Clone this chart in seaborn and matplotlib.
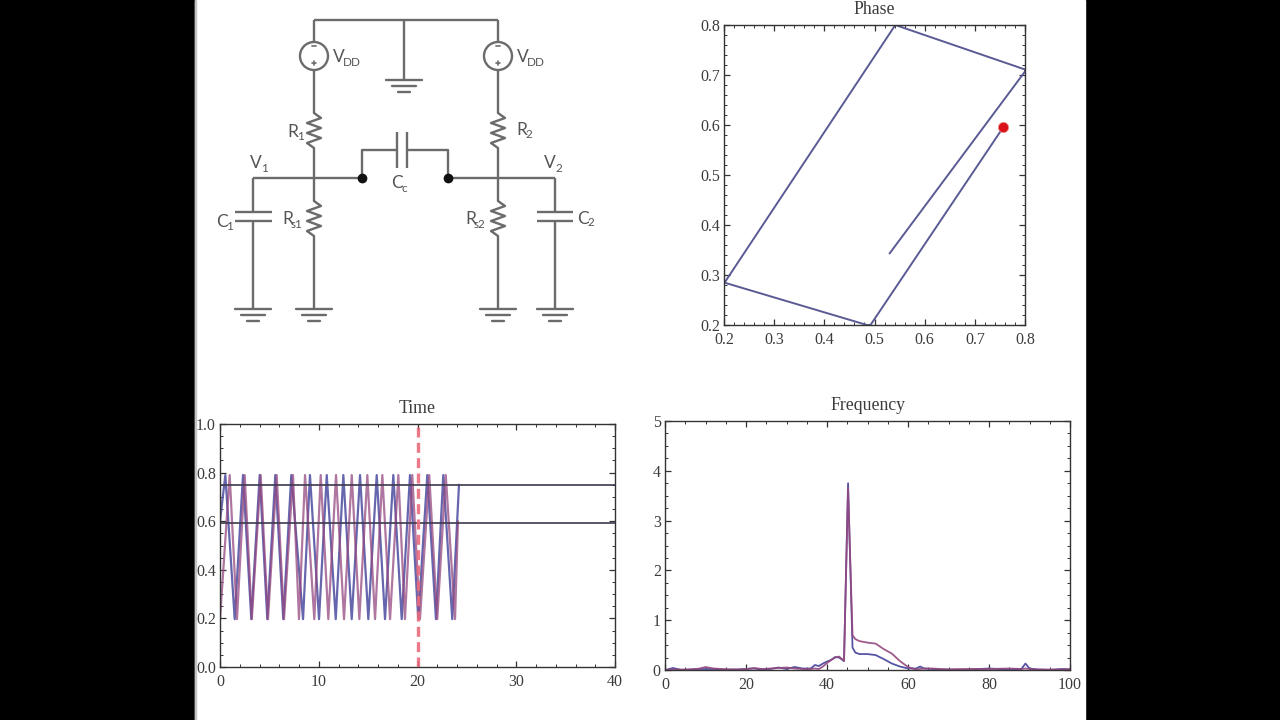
import numpy as np
import pandas as pd
import matplotlib
matplotlib.use("Agg")
import matplotlib.pyplot as plt
from matplotlib.patches import Circle, Rectangle
from matplotlib.ticker import MultipleLocator, FormatStrFormatter
import seaborn as sns

# Phase trace
phase_x = [0.53, 0.80, 0.80, 0.5415, 0.2, 0.2, 0.485, 0.492, 0.757]
phase_y = [0.343, 0.707, 0.711, 0.80, 0.283, 0.285, 0.20, 0.20, 0.596]
dot_x = [0.757]
dot_y = [0.596]

# Time traces, peaks at 0.79 and troughs at 0.197
blue_t = [0, 0.54, 1.49, 2.33, 3.17, 4.02, 4.79, 5.60, 6.41, 7.22, 8.41, 9.11, 10.03, 10.81, 11.72,
          12.49, 13.34, 14.18, 15.02, 15.87, 16.71, 17.55, 18.40, 19.24, 20.08, 20.99, 21.87,
          22.61, 23.52, 24.2]
blue_v = [0.6, 0.79, 0.197, 0.79, 0.197, 0.79, 0.197, 0.79, 0.197, 0.79, 0.197, 0.79, 0.197, 0.79, 0.197,
          0.79, 0.197, 0.79, 0.197, 0.79, 0.197, 0.79, 0.197, 0.79, 0.197, 0.79, 0.197,
          0.79, 0.197, 0.75]
purple_t = [0, 0.98, 1.72, 2.50, 3.22, 4.12, 4.86, 5.74, 6.48, 7.39, 8.00, 8.61, 9.55, 10.20, 10.97,
            11.75, 12.56, 13.34, 14.11, 14.92, 15.70, 16.44, 17.22, 18.06, 18.73, 19.47, 20.25,
            21.19, 22.0, 22.86, 23.8, 24.1]
purple_v = [0.197, 0.79, 0.197, 0.79, 0.197, 0.79, 0.197, 0.79, 0.197, 0.79, 0.197, 0.79, 0.197, 0.79, 0.197,
            0.79, 0.197, 0.79, 0.197, 0.79, 0.197, 0.79, 0.197, 0.79, 0.197, 0.79, 0.197,
            0.79, 0.197, 0.79, 0.197, 0.6]
hold_levels = [0.75, 0.593]
marker_t = 20

# Frequency spectra
freq_x = [0, 2, 4, 6, 8, 10, 12, 14, 16, 18, 20, 22, 24, 26, 28, 30, 32, 34, 36, 37, 38, 39, 40, 41,
          42, 43, 44.2, 45.2, 46.3, 47, 48, 50, 52, 54, 56, 58, 60, 62, 63, 64, 66, 68, 70, 75, 80,
          85, 88, 89, 90, 92, 95, 98, 100]
freq_blue = [0.0, 0.04, 0.0, 0.01, 0.02, 0.02, 0.02, 0.01, 0.01, 0.01, 0.02, 0.03, 0.01, 0.02, 0.05,
             0.02, 0.06, 0.03, 0.03, 0.10, 0.08, 0.13, 0.17, 0.20, 0.26, 0.25, 0.18, 3.75, 0.45,
             0.35, 0.32, 0.32, 0.30, 0.22, 0.13, 0.07, 0.03, 0.03, 0.07, 0.03, 0.02, 0.01, 0.01,
             0.01, 0.03, 0.01, 0.02, 0.13, 0.03, 0.01, 0.0, 0.02, 0.01]
freq_purple = [0.0, 0.01, 0.01, 0.01, 0.02, 0.06, 0.03, 0.02, 0.01, 0.01, 0.02, 0.04, 0.02, 0.03, 0.04,
               0.05, 0.03, 0.02, 0.02, 0.03, 0.02, 0.07, 0.14, 0.20, 0.25, 0.27, 0.18, 3.65, 0.70,
               0.62, 0.58, 0.55, 0.53, 0.42, 0.33, 0.18, 0.06, 0.01, 0.02, 0.03, 0.03, 0.02, 0.01,
               0.02, 0.02, 0.03, 0.02, 0.03, 0.02, 0.01, 0.01, 0.01, 0.02]

BLUE = "#5555a5"
PURPLE = "#95487f"
DARK = "#3d3a4e"
TEXT = "#3c3c3c"
GRAY = "#6b6b6b"

sns.set_theme(style="ticks")
plt.rcParams["font.family"] = ["Liberation Serif", "DejaVu Serif"]

fig = plt.figure(figsize=(12.8, 7.2), dpi=100, facecolor="black")


def pixel_axes(left, top, right, bottom):
    return fig.add_axes([left / 1280, 1 - bottom / 720, (right - left) / 1280, (bottom - top) / 720])


# background panel and circuit, in pixel units
bg = fig.add_axes([0, 0, 1, 1])
bg.set_xlim(0, 1280)
bg.set_ylim(720, 0)
bg.axis("off")
bg.add_patch(Rectangle((195, 0), 889.5, 720, color="white", zorder=0))
bg.add_patch(Rectangle((195, 0), 1, 720, color="#c4c4c4", zorder=1))

wires = [
    ([314, 498], [20, 20]), ([404, 404], [20, 80]),
    ([314, 314], [20, 42]), ([314, 314], [70, 113]), ([314, 314], [148, 201]), ([314, 314], [236, 309]),
    ([498, 498], [20, 42]), ([498, 498], [70, 113]), ([498, 498], [148, 201]), ([498, 498], [236, 309]),
    ([253, 362], [178, 178]), ([448, 555], [178, 178]),
    ([362, 362, 397], [178, 150, 150]), ([407, 448, 448], [150, 150, 178]),
    ([397, 397], [132, 168]), ([407, 407], [132, 168]),
    ([253, 253], [178, 212]), ([253, 253], [221, 309]), ([235, 272], [212, 212]), ([235, 272], [221, 221]),
    ([555, 555], [178, 212]), ([555, 555], [221, 309]), ([537, 573], [212, 212]), ([537, 573], [221, 221]),
]
for wx, wy in wires:
    bg.plot(wx, wy, color=GRAY, lw=1.7, solid_capstyle="butt", zorder=2)

# grounds
for gx, gy in [(404, 80), (253, 309), (314, 309), (498, 309), (555, 309)]:
    bg.plot([gx - 18, gx + 18], [gy, gy], color=GRAY, lw=1.7, zorder=2)
    bg.plot([gx - 12, gx + 12], [gy + 6, gy + 6], color=GRAY, lw=1.7, zorder=2)
    bg.plot([gx - 6, gx + 6], [gy + 12, gy + 12], color=GRAY, lw=1.7, zorder=2)

# resistors
for rx, y0, y1 in [(314, 113, 148), (498, 113, 148), (314, 201, 236), (498, 201, 236)]:
    ys = np.linspace(y0, y1, 8)
    xs = [rx, rx + 7, rx - 7, rx + 7, rx - 7, rx + 7, rx - 7, rx]
    bg.plot(xs, ys, color=GRAY, lw=1.7, zorder=2)

# voltage sources
for sx in [314, 498]:
    bg.add_patch(Circle((sx, 56), 14, fill=False, ec=GRAY, lw=1.7, zorder=2))
    bg.plot([sx - 2, sx + 2], [46, 46], color=GRAY, lw=1.2, zorder=2)
    bg.plot([sx - 2, sx + 2], [63, 63], color=GRAY, lw=1.2, zorder=2)
    bg.plot([sx, sx], [61, 65], color=GRAY, lw=1.2, zorder=2)

bg.plot([362, 448], [178, 178], ls="none", marker="o", ms=6, color="#111111", zorder=3)

labels = [
    (333, 57, "V", 343, 62, "DD"), (517, 57, "V", 527, 62, "DD"),
    (287, 132, "R", 297, 137, "1"), (516, 130, "R", 526, 134, "2"),
    (250, 163, "V", 261, 168, "1"), (544, 163, "V", 555, 168, "2"),
    (391, 183, "C", 401, 188, "c"), (216, 222, "C", 226, 226, "1"),
    (282, 219, "R", 291, 224, "s1"), (465, 219, "R", 474, 224, "s2"),
    (577, 219, "C", 587, 223, "2"),
]
for x1, y1, main, x2, y2, sub in labels:
    bg.text(x1, y1, main, family="Lato", fontsize=12.5, color="#555555", va="center", ha="left")
    bg.text(x2, y2, sub, family="Lato", fontsize=8.5, color="#555555", va="center", ha="left")


def style_axes(ax, title, xmaj, xmin, ymaj, ymin, fmt_x, fmt_y):
    ax.set_title(title, fontsize=12.8, color=TEXT, pad=8)
    ax.xaxis.set_major_locator(MultipleLocator(xmaj))
    ax.xaxis.set_minor_locator(MultipleLocator(xmin))
    ax.yaxis.set_major_locator(MultipleLocator(ymaj))
    ax.yaxis.set_minor_locator(MultipleLocator(ymin))
    ax.xaxis.set_major_formatter(FormatStrFormatter(fmt_x))
    ax.yaxis.set_major_formatter(FormatStrFormatter(fmt_y))
    ax.tick_params(which="major", direction="in", top=True, right=True, length=4, width=0.9,
                   color="#333333", labelsize=11.5, labelcolor=TEXT, pad=3)
    ax.tick_params(axis="x", which="major", pad=5)
    ax.tick_params(which="minor", direction="in", top=True, right=True, length=2, width=0.7, color="#333333")
    ax.set_xlabel("")
    ax.set_ylabel("")
    for s in ax.spines.values():
        s.set_visible(True)
        s.set_color("#333333")
        s.set_linewidth(1.0)


# Phase
ax1 = pixel_axes(724, 25, 1025, 325)
ax1.set_facecolor("none")
sns.lineplot(x=phase_x, y=phase_y, ax=ax1, sort=False, estimator=None, color="#5a5a94", lw=1.4)
sns.scatterplot(x=dot_x, y=dot_y, ax=ax1, color="#d9121a", s=55, edgecolor="#f09090", linewidth=0.5, zorder=5)
ax1.set_xlim(0.2, 0.8)
ax1.set_ylim(0.2, 0.8)
style_axes(ax1, "Phase", 0.1, 0.02, 0.1, 0.02, "%.1f", "%.1f")

# Time
ax2 = pixel_axes(220, 424, 615, 667)
ax2.set_facecolor("none")
sns.lineplot(x=blue_t, y=blue_v, ax=ax2, sort=False, estimator=None, color=BLUE, lw=1.6, alpha=0.9)
sns.lineplot(x=purple_t, y=purple_v, ax=ax2, sort=False, estimator=None, color=PURPLE, lw=1.6, alpha=0.75)
for level in hold_levels:
    ax2.axhline(level, color=DARK, lw=1.2)
ax2.axvline(marker_t, color="#ea6a7c", lw=2.4, ls=(0, (3.0, 1.6)), alpha=0.9, zorder=6)
ax2.set_xlim(0, 40)
ax2.set_ylim(0, 1)
style_axes(ax2, "Time", 10, 2, 0.2, 0.05, "%d", "%.1f")

# Frequency
ax3 = pixel_axes(665, 421, 1070, 670)
ax3.set_facecolor("none")
spectra = pd.DataFrame({"f": freq_x, "blue": freq_blue, "purple": freq_purple})
sns.lineplot(data=spectra, x="f", y="blue", ax=ax3, estimator=None, color=BLUE, lw=1.3)
sns.lineplot(data=spectra, x="f", y="purple", ax=ax3, estimator=None, color=PURPLE, lw=1.3, alpha=0.9)
ax3.set_xlim(0, 100)
ax3.set_ylim(0, 5)
style_axes(ax3, "Frequency", 20, 5, 1, 0.25, "%d", "%d")

fig.savefig("out.png", dpi=100, facecolor="black")
